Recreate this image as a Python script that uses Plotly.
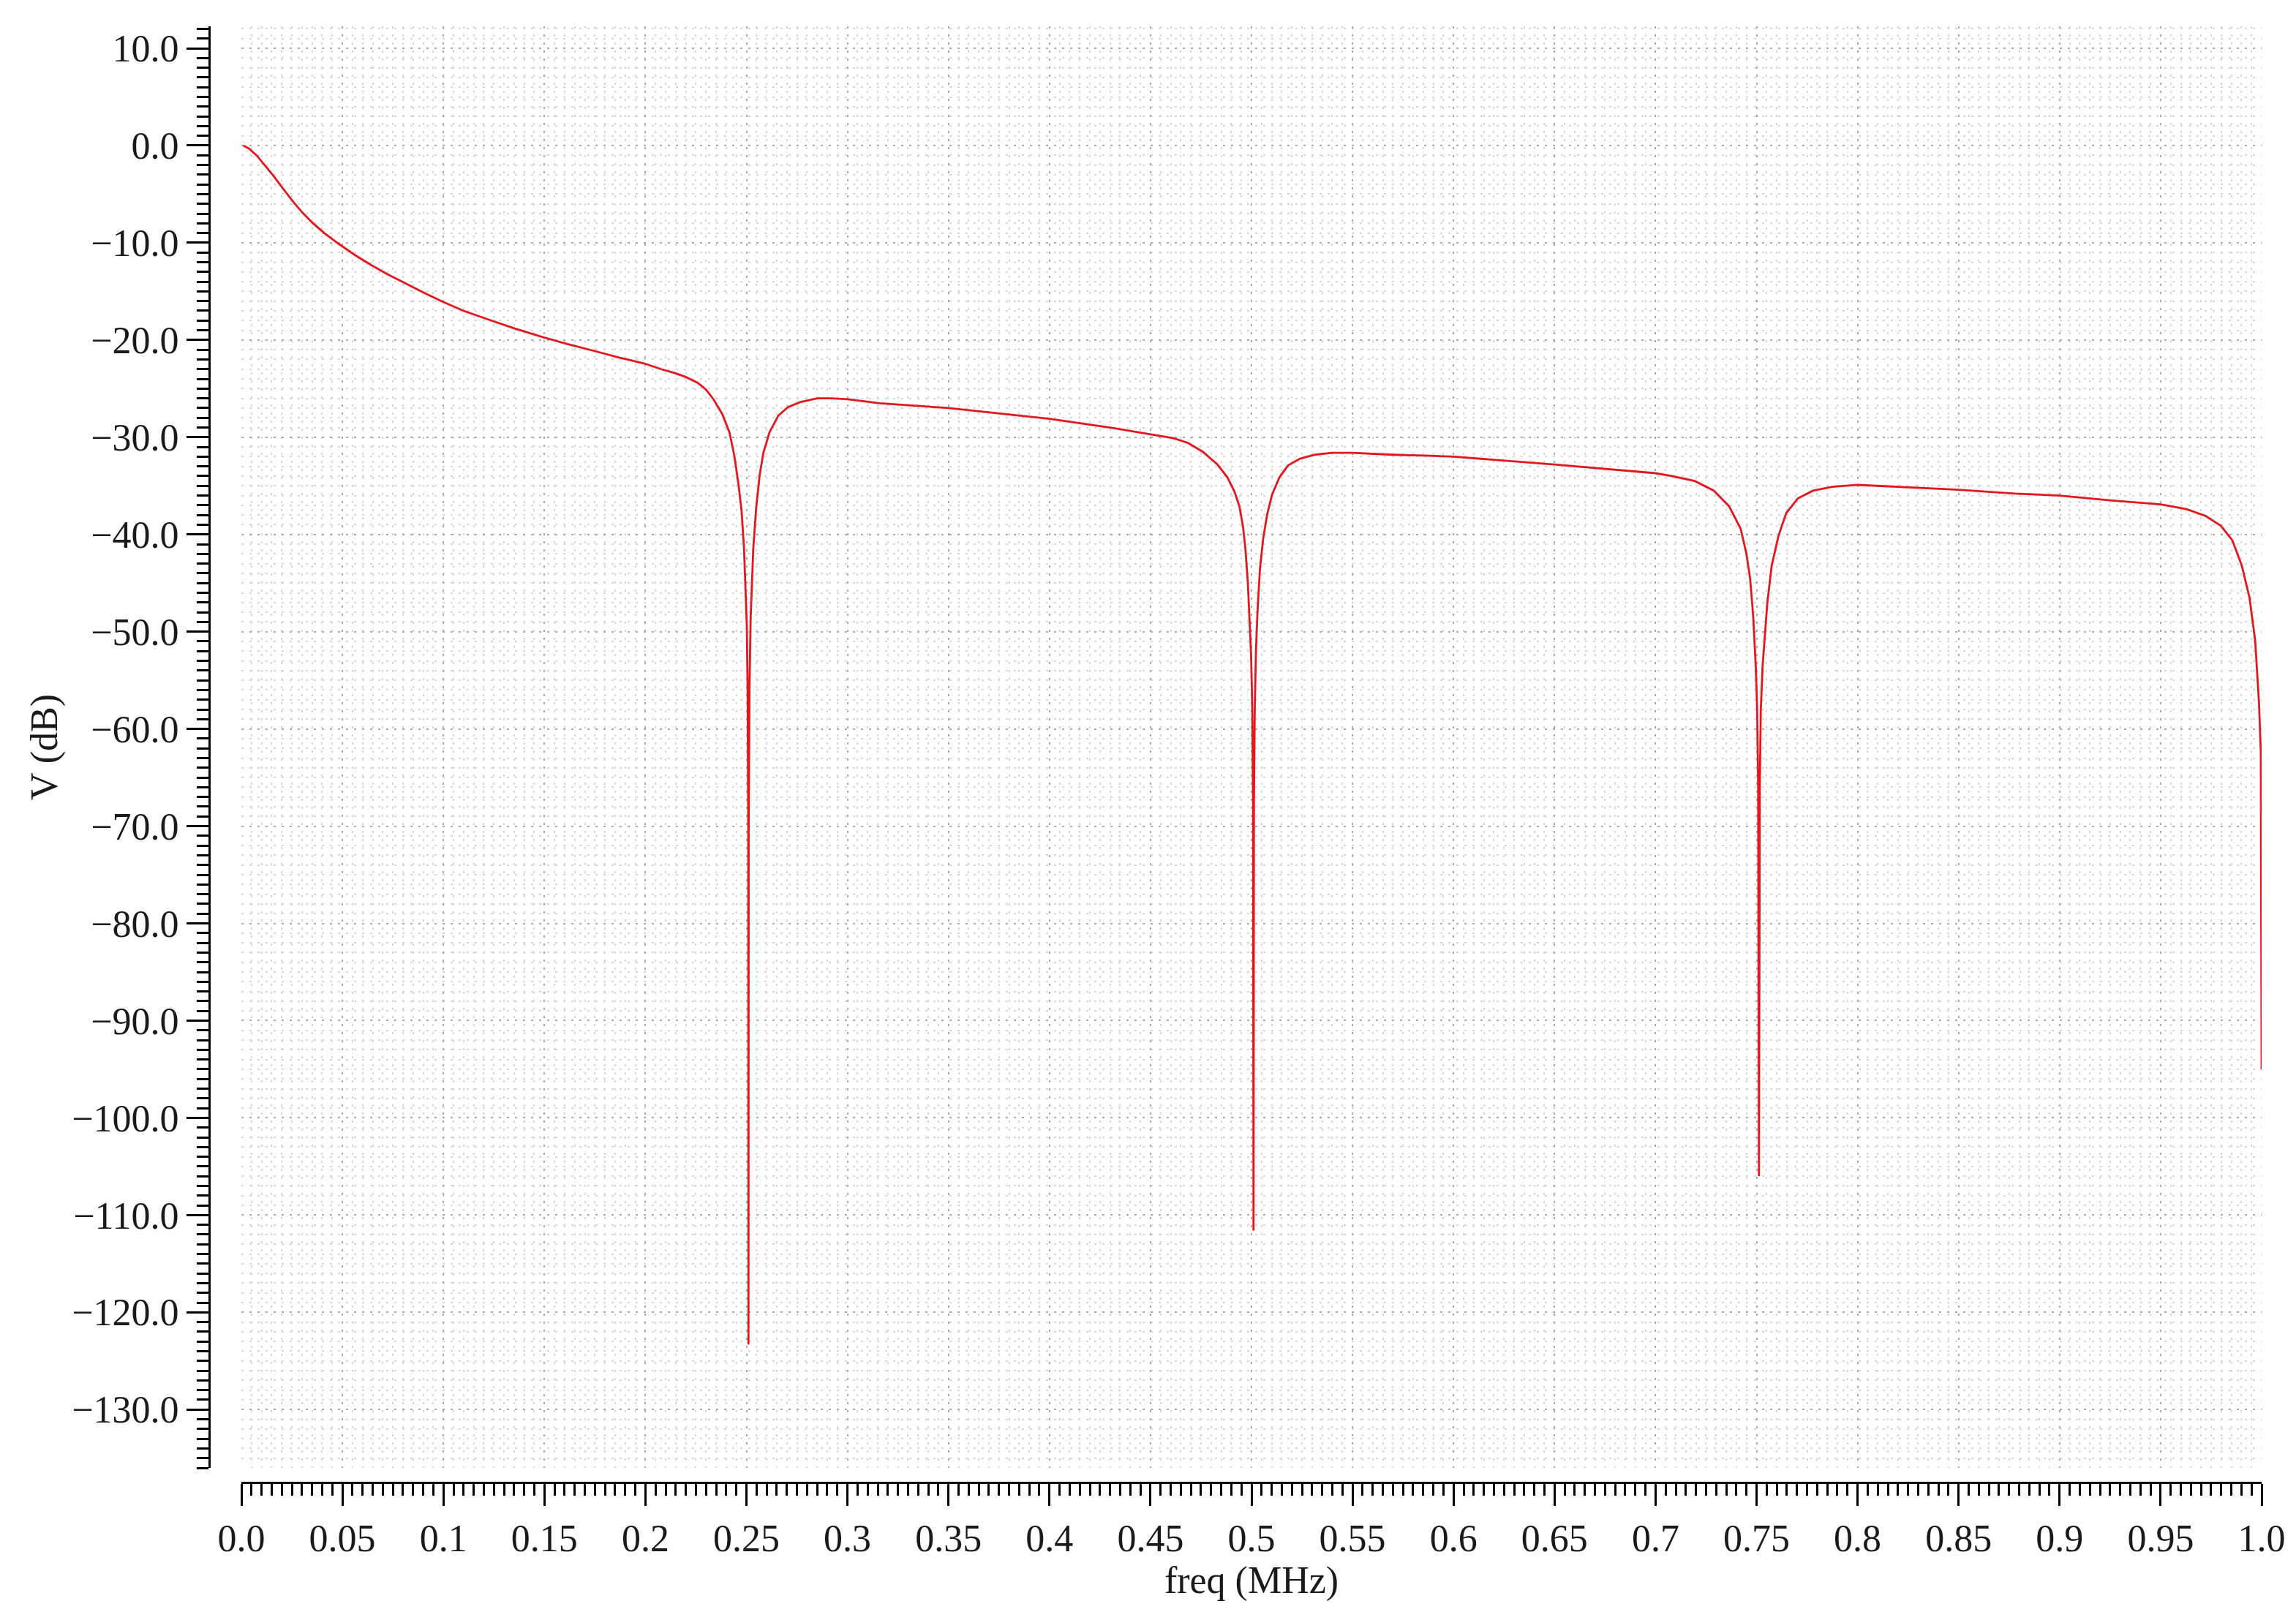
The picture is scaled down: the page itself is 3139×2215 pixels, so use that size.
import plotly.graph_objects as go

# ---- data ----
freq_mhz = [
    0.001, 0.004, 0.0077, 0.0115, 0.0158, 0.0205, 0.0255, 0.0300, 0.0352, 0.0410,
    0.0481, 0.0565, 0.0643, 0.0720, 0.0804, 0.0900, 0.0990, 0.1100, 0.1224, 0.1350,
    0.1491, 0.1610, 0.1742, 0.1870, 0.1992, 0.2078, 0.2146, 0.2199, 0.2259, 0.2300,
    0.2337, 0.2380, 0.2416, 0.2440, 0.2461, 0.2476, 0.2488, 0.2496, 0.2502, 0.2506,
    0.2509, 0.2510, 0.2511, 0.2515, 0.2521, 0.2534, 0.2548, 0.2566, 0.2584, 0.2614,
    0.2657, 0.2705, 0.2765, 0.2850, 0.2920, 0.3000, 0.3160, 0.3500, 0.4000, 0.4300,
    0.4500, 0.4614, 0.4687, 0.4759, 0.4831, 0.4880, 0.4916, 0.4940, 0.4958, 0.4970,
    0.4982, 0.4988, 0.4998, 0.5004, 0.5008, 0.5010, 0.5012, 0.5016, 0.5022, 0.5030,
    0.5042, 0.5058, 0.5078, 0.5102, 0.5139, 0.5181, 0.5241, 0.5313, 0.5398, 0.5500,
    0.5699, 0.5880, 0.6000, 0.6500, 0.7000, 0.7081, 0.7194, 0.7289, 0.7364, 0.7421,
    0.7449, 0.7468, 0.7483, 0.7496, 0.7503, 0.7508, 0.7512, 0.7516, 0.7521, 0.7530,
    0.7553, 0.7575, 0.7609, 0.7647, 0.7704, 0.7779, 0.7874, 0.8000, 0.8213, 0.8500,
    0.8779, 0.9000, 0.9251, 0.9500, 0.9628, 0.9723, 0.9798, 0.9855, 0.9902, 0.9940,
    0.9968, 0.9987, 0.9996, 1.0000,
]
v_db = [
    0.0, -0.35, -1.05, -2.0, -3.1, -4.4, -5.75, -6.85, -7.95, -9.0,
    -10.1, -11.3, -12.3, -13.2, -14.1, -15.1, -16.0, -17.0, -17.9, -18.8,
    -19.7, -20.4, -21.1, -21.8, -22.4, -23.0, -23.4, -23.8, -24.4, -25.1,
    -26.1, -27.6, -29.5, -31.9, -34.9, -37.6, -41.4, -45.4, -49.5, -56.0,
    -70.0, -123.3, -70.0, -56.0, -48.5, -41.4, -37.3, -33.8, -31.6, -29.5,
    -27.8, -26.9, -26.4, -26.0, -26.0, -26.1, -26.5, -27.0, -28.1, -29.0,
    -29.7, -30.1, -30.6, -31.5, -32.8, -34.1, -35.6, -37.1, -39.2, -41.5,
    -45.0, -47.8, -52.4, -58.0, -68.0, -111.6, -68.0, -58.0, -52.0, -47.8,
    -43.5, -40.4, -37.9, -35.9, -34.1, -32.9, -32.2, -31.8, -31.6, -31.6,
    -31.8, -31.9, -32.0, -32.8, -33.7, -34.0, -34.5, -35.5, -37.1, -39.4,
    -41.9, -44.5, -48.3, -53.5, -58.0, -66.0, -106.0, -66.0, -58.0, -53.5,
    -47.1, -43.2, -40.1, -37.8, -36.3, -35.5, -35.1, -34.9, -35.1, -35.4,
    -35.8, -36.0, -36.5, -36.9, -37.4, -38.1, -39.1, -40.6, -43.2, -46.5,
    -50.9, -57.3, -62.4, -95.0,
]

x_tickvals = [0.0, 0.05, 0.1, 0.15, 0.2, 0.25, 0.3, 0.35, 0.4, 0.45, 0.5,
              0.55, 0.6, 0.65, 0.7, 0.75, 0.8, 0.85, 0.9, 0.95, 1.0]
x_ticktext = ["0.0", "0.05", "0.1", "0.15", "0.2", "0.25", "0.3", "0.35", "0.4",
              "0.45", "0.5", "0.55", "0.6", "0.65", "0.7", "0.75", "0.8", "0.85",
              "0.9", "0.95", "1.0"]
y_tickvals = [10, 0, -10, -20, -30, -40, -50, -60, -70, -80, -90, -100, -110, -120, -130]
y_ticktext = ["10.0", "0.0", "\u221210.0", "\u221220.0", "\u221230.0", "\u221240.0",
              "\u221250.0", "\u221260.0", "\u221270.0", "\u221280.0", "\u221290.0",
              "\u2212100.0", "\u2212110.0", "\u2212120.0", "\u2212130.0"]

W, H = 3139, 2215
OFF = 8  # page body margin
ML, MT = 286 - OFF, 36 - OFF
MR = W - (3092 - OFF)
MB = H - (2027 - OFF)
plot_w = W - ML - MR
plot_h = H - MT - MB
x_dom0 = (330 - 286) / plot_w
y_dom0 = (2027 - 2007) / plot_h

FONT = "Liberation Serif"
FS = 52
TXT = "#1a1a1a"
MAJ_GRID = "#a9a9a9"
MIN_GRID = "#d6d6d6"

fig = go.Figure()
fig.add_trace(go.Scatter(
    x=freq_mhz, y=v_db, mode="lines",
    line=dict(color="rgb(228,22,30)", width=2.8),
    showlegend=False, hoverinfo="x+y",
))

fig.update_layout(
    width=W, height=H,
    margin=dict(l=ML, r=MR, t=MT, b=MB, autoexpand=False),
    paper_bgcolor="white", plot_bgcolor="white",
    font=dict(family=FONT, size=FS, color=TXT),
    xaxis=dict(
        domain=[x_dom0, 1.0], range=[0.0, 1.0], anchor="free", position=0.0,
        tickmode="array", tickvals=x_tickvals, ticktext=x_ticktext,
        ticks="outside", ticklen=30, tickwidth=3, tickcolor="black",
        showline=True, linecolor="black", linewidth=3,
        showgrid=True, gridcolor=MAJ_GRID, gridwidth=2, griddash="3px,8px",
        zeroline=False,
        tickfont=dict(family=FONT, size=FS, color=TXT),
        title=dict(text="freq (MHz)", font=dict(family=FONT, size=FS, color=TXT),
                   standoff=4),
        minor=dict(tickmode="linear", tick0=0.0, dtick=0.005, ticks="outside",
                   ticklen=16, tickwidth=3, tickcolor="black",
                   showgrid=True, gridcolor=MIN_GRID, gridwidth=2, griddash="3px,8px"),
        automargin=False,
    ),
    yaxis=dict(
        domain=[y_dom0, 1.0], range=[-136.0, 12.26], anchor="free", position=0.0,
        tickmode="array", tickvals=y_tickvals, ticktext=y_ticktext,
        ticks="outside", ticklen=30, tickwidth=3, tickcolor="black",
        showline=True, linecolor="black", linewidth=3,
        showgrid=True, gridcolor=MAJ_GRID, gridwidth=2, griddash="3px,8px",
        zeroline=False,
        tickfont=dict(family=FONT, size=FS, color=TXT),
        title=dict(text="V (dB)", font=dict(family=FONT, size=FS, color=TXT),
                   standoff=2),
        minor=dict(tickmode="linear", tick0=0.0, dtick=1, ticks="outside",
                   ticklen=16, tickwidth=3, tickcolor="black",
                   showgrid=True, gridcolor=MIN_GRID, gridwidth=2, griddash="3px,8px"),
        automargin=False,
    ),
)

fig.write_html("out.html")
